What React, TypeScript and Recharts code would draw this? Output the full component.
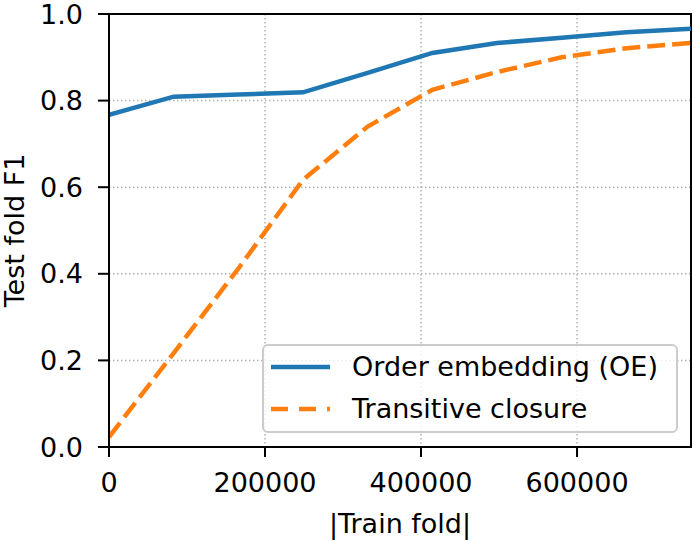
import React from "react";
import {
  LineChart,
  Line,
  XAxis,
  YAxis,
  CartesianGrid,
  Legend,
  ReferenceArea,
} from "recharts";

// training fold sizes (x) and test-fold F1 for both methods
const trainSizes = [0, 82900, 165800, 248700, 331600, 414500, 497400, 580300, 663200, 746100];
const orderEmbedding = [0.767, 0.809, 0.814, 0.819, 0.864, 0.91, 0.933, 0.945, 0.958, 0.966];
const transitiveClosure = [0.023, 0.217, 0.412, 0.617, 0.74, 0.825, 0.866, 0.9, 0.921, 0.933];

const xTicks = [0, 200000, 400000, 600000];
const yTicks = [0, 0.2, 0.4, 0.6, 0.8, 1.0];

const seriesNames = ["Order embedding (OE)", "Transitive closure"];

const BLUE = "#1f77b4";
const ORANGE = "#ff7f0e";
const FONT = "'DejaVu Sans', sans-serif";

const data = trainSizes.map((x, i) => ({
  x,
  oe: orderEmbedding[i],
  tc: transitiveClosure[i],
}));

const tickStyle = { fontSize: 27, fill: "#000", fontFamily: FONT };

const LegendBox = () => (
  <div
    style={{
      width: 412,
      height: 85,
      border: "2px solid #cccccc",
      borderRadius: 6,
      background: "rgba(255,255,255,0.8)",
      fontFamily: FONT,
      fontSize: 27,
      color: "#000",
      position: "relative",
    }}
  >
    {seriesNames.map((name, i) => (
      <div
        key={name}
        style={{
          position: "absolute",
          left: 0,
          top: i === 0 ? 3 : 45,
          height: 36,
          display: "flex",
          alignItems: "center",
        }}
      >
        <svg width={88} height={36}>
          <line
            x1={7}
            x2={66}
            y1={18}
            y2={18}
            stroke={i === 0 ? BLUE : ORANGE}
            strokeWidth={4.5}
            strokeDasharray={i === 0 ? undefined : "17 11"}
          />
        </svg>
        <span style={{ whiteSpace: "nowrap", lineHeight: "36px" }}>{name}</span>
      </div>
    ))}
  </div>
);

const YLabel = (props: any) => {
  const { viewBox } = props;
  const cy = viewBox.y + viewBox.height / 2;
  return (
    <text
      x={24}
      y={cy}
      transform={`rotate(-90, 24, ${cy})`}
      textAnchor="middle"
      fontSize={27}
      fontFamily={FONT}
      fill="#000"
    >
      Test fold F1
    </text>
  );
};

export default function App() {
  return (
    <div style={{ position: "absolute", left: 0, top: 0, background: "#fff" }}>
      <LineChart
        width={694}
        height={541}
        data={data}
        margin={{ top: 14, right: 3, bottom: 0, left: 0 }}
      >
        <CartesianGrid stroke="#b0b0b0" strokeWidth={1.5} strokeDasharray="1.5 2.5" />
        <XAxis
          dataKey="x"
          type="number"
          domain={[0, 746100]}
          ticks={xTicks}
          allowDataOverflow
          height={94}
          tick={tickStyle}
          tickSize={10}
          tickMargin={16}
          tickLine={{ stroke: "#000", strokeWidth: 2 }}
          axisLine={{ stroke: "#000", strokeWidth: 2 }}
          interval={0}
          label={{
            value: "|Train fold|",
            position: "insideBottom",
            offset: 8,
            fontSize: 27,
            fontFamily: FONT,
            fill: "#000",
          }}
        />
        <YAxis
          type="number"
          domain={[0, 1]}
          ticks={yTicks}
          width={109}
          tick={tickStyle}
          tickSize={11}
          tickMargin={15}
          tickFormatter={(v: number) => v.toFixed(1)}
          tickLine={{ stroke: "#000", strokeWidth: 2 }}
          axisLine={{ stroke: "#000", strokeWidth: 2 }}
          interval={0}
          label={{ content: <YLabel /> }}
        />
        <Line
          type="linear"
          dataKey="oe"
          stroke={BLUE}
          strokeWidth={4.5}
          dot={false}
          isAnimationActive={false}
        />
        <Line
          type="linear"
          dataKey="tc"
          stroke={ORANGE}
          strokeWidth={4.5}
          strokeDasharray="18 7"
          dot={false}
          isAnimationActive={false}
        />
        <ReferenceArea
          x1={0}
          x2={746100}
          y1={0}
          y2={1}
          fill="none"
          stroke="#000"
          strokeWidth={2}
          ifOverflow="visible"
        />
        <Legend
          layout="vertical"
          align="center"
          verticalAlign="middle"
          content={<LegendBox />}
          wrapperStyle={{ left: 262, top: 344, width: 416, height: 89 }}
        />
      </LineChart>
    </div>
  );
}
